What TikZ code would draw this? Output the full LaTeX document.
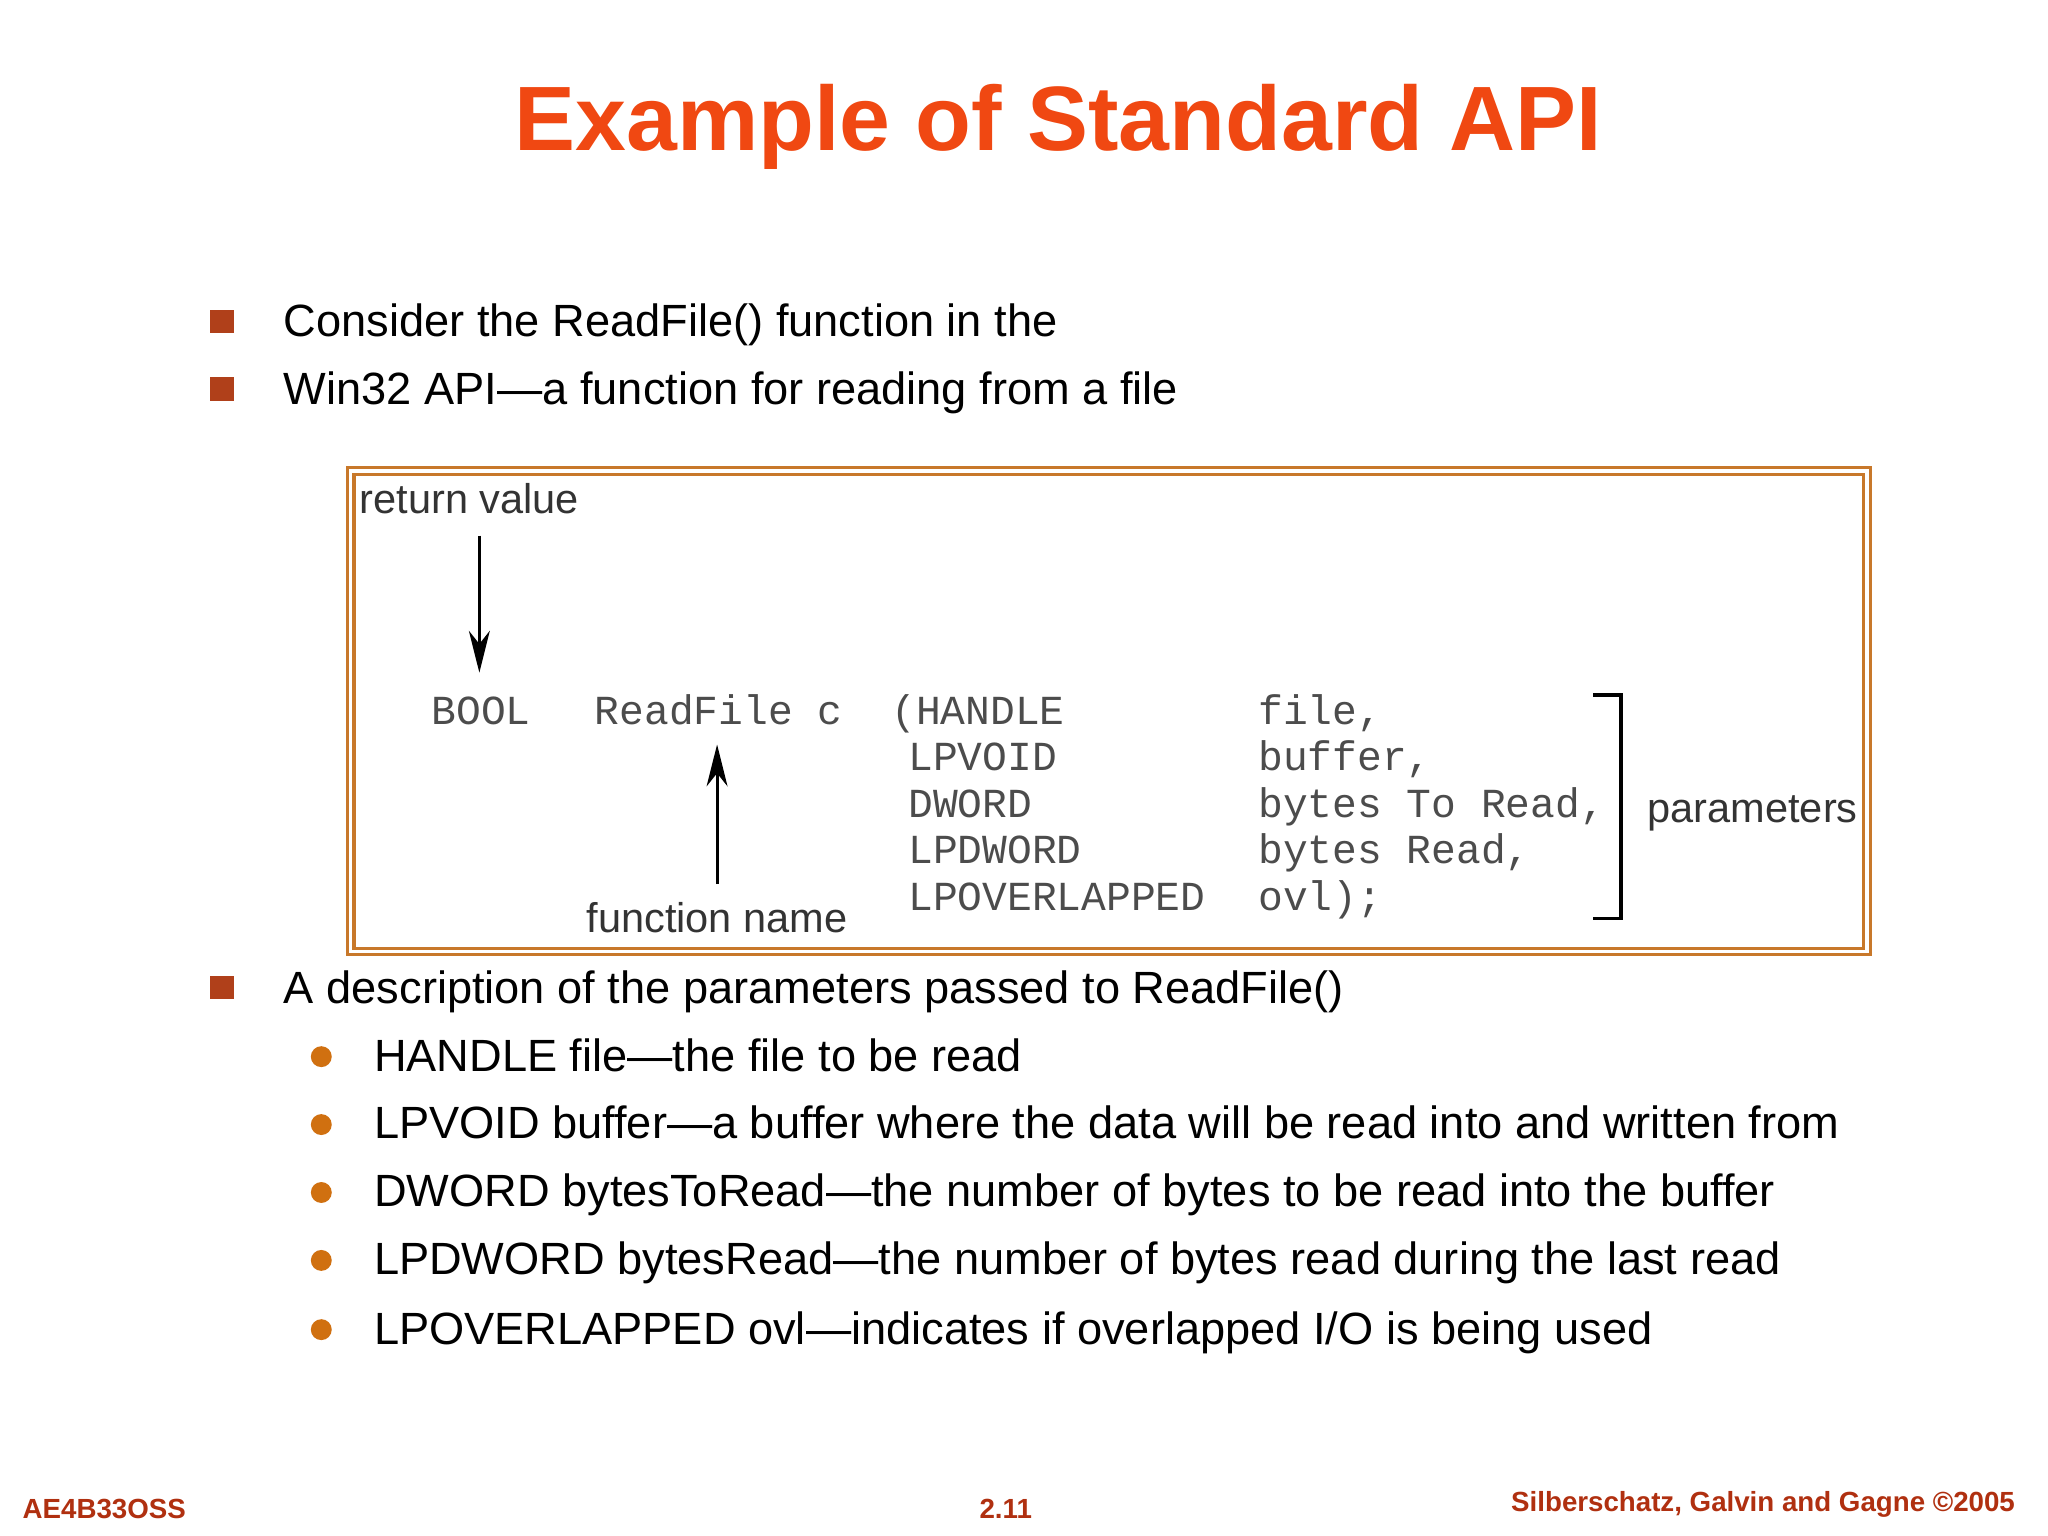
\documentclass[tikz,border=0pt]{standalone}
\usepackage{fontspec}
\setmainfont{Liberation Sans}
\newfontfamily\codefont{Liberation Mono}
\usetikzlibrary{arrows.meta}
\definecolor{titlec}{HTML}{F04812}
\definecolor{boxc}{HTML}{C8782A}
\definecolor{sqc}{HTML}{B0401A}
\definecolor{dotc}{HTML}{D07010}
\definecolor{footc}{HTML}{B03010}
\tikzset{
 body/.style={anchor=base west,inner sep=0,font=\fontsize{17.3}{20}\selectfont},
 lab/.style={anchor=base west,inner sep=0,font=\fontsize{15.9}{18}\selectfont,text=black!80},
 code/.style={anchor=base west,inner sep=0,font=\codefont\fontsize{15.8}{18}\selectfont,text=black!70},
 foot/.style={inner sep=0,font=\bfseries\fontsize{10.6}{12}\selectfont,text=footc},
 sq/.style={fill=sqc,minimum size=9pt,inner sep=0},
 dot/.style={circle,fill=dotc,minimum size=8pt,inner sep=0},
 arr/.style={-{Stealth[length=16pt,width=8pt,inset=5pt]},line width=1.2pt}
}
\begin{document}
\begin{tikzpicture}[x=0.5pt,y=-0.5pt]
\useasboundingbox (0,0) rectangle (1568,1176);
\fill[white] (0,0) rectangle (1568,1176);
\node[font=\bfseries\fontsize{35}{40}\selectfont,text=titlec] (title) at (810,97) {Example of Standard API};
\node[sq] (s1) at (170,246) {}; \node[body] (t1) at (217,258) {Consider the ReadFile() function in the};
\node[sq] (s2) at (170,298) {}; \node[body] (t2) at (217,310) {Win32 API—a function for reading from a file};
\draw[boxc,line width=1.2pt] (266,358) rectangle (1432,731);
\draw[boxc,line width=1.2pt] (271,363) rectangle (1427,726);
\node[lab] (rv) at (275,393) {return value};
\coordinate (rvs) at (367,410);
\node[code] (bool) at (330,555) {BOOL};
\draw[arr] (rvs) -- (367,515);
\node[code] (rf) at (455,555) {ReadFile c};
\node[code] (c1) at (682,555) {(HANDLE};
\node[code] (c2) at (695,590) {LPVOID};
\node[code] (c3) at (695,626) {DWORD};
\node[code] (c4) at (695,661) {LPDWORD};
\node[code] (c5) at (695,697) {LPOVERLAPPED};
\node[code] (d1) at (963,555) {file,};
\node[code] (d2) at (963,590) {buffer,};
\node[code] (d3) at (963,626) {bytes To Read,};
\node[code] (d4) at (963,661) {bytes Read,};
\node[code] (d5) at (963,697) {ovl);};
\node[lab,anchor=base] (fn) at (549,714) {function name};
\coordinate (fns) at (549,677);
\draw[arr] (fns) -- (549,570);
\draw[line width=1.3pt] (1220,532) -- (1241,532) -- (1241,703) -- (1220,703);
\node[lab] (par) at (1261,630) {parameters};
\node[sq] (s3) at (170,756) {}; \node[body] (t3) at (217,768) {A description of the parameters passed to ReadFile()};
\node[dot] (b1) at (246,809) {}; \node[body] (u1) at (286,820) {HANDLE file—the file to be read};
\node[dot] (b2) at (246,861) {}; \node[body] (u2) at (286,872) {LPVOID buffer—a buffer where the data will be read into and written from};
\node[dot] (b3) at (246,913) {}; \node[body] (u3) at (286,924) {DWORD bytesToRead—the number of bytes to be read into the buffer};
\node[dot] (b4) at (246,965) {}; \node[body] (u4) at (286,976) {LPDWORD bytesRead—the number of bytes read during the last read};
\node[dot] (b5) at (246,1018) {}; \node[body] (u5) at (286,1029) {LPOVERLAPPED ovl—indicates if overlapped I/O is being used};
\node[foot,anchor=west] (f1) at (17,1155) {AE4B33OSS};
\node[foot] (f2) at (770,1155) {2.11};
\node[foot,anchor=east] (f3) at (1543,1152) {Silberschatz, Galvin and Gagne ©2005};
\end{tikzpicture}
\end{document}
